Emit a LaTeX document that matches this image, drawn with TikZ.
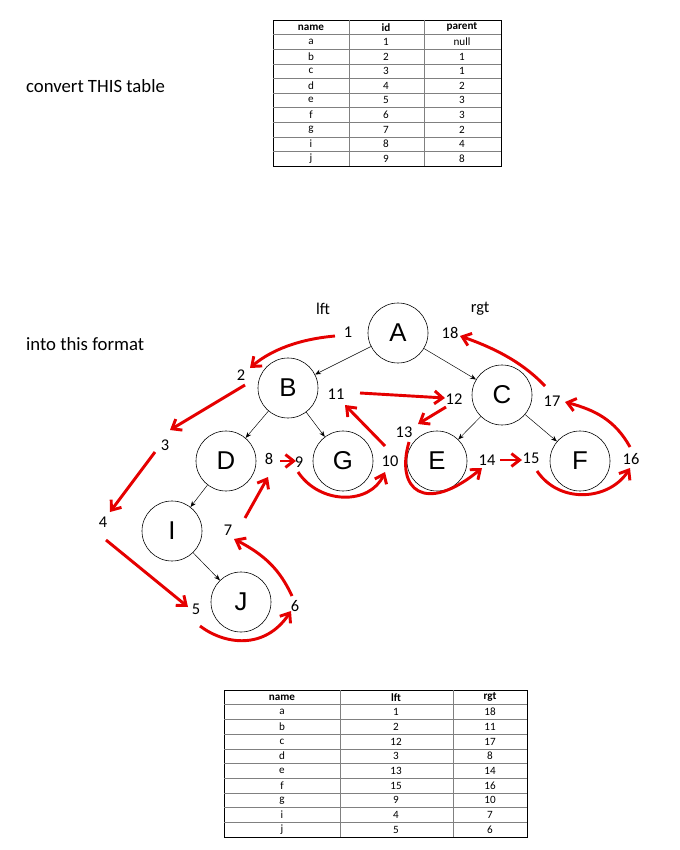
\documentclass[tikz,border=0pt]{standalone}
\usepackage{fontspec}
\setmainfont{Carlito}
\newfontfamily\arialf{Liberation Sans}
\usetikzlibrary{arrows.meta}
\begin{document}
\begin{tikzpicture}[x=0.03cm,y=-0.03cm,
  tn/.style={circle,draw,line width=0.5pt,minimum size=1.8cm,inner sep=0,font=\arialf\fontsize{22}{24}\selectfont},
  num/.style={inner sep=1pt,font=\fontsize{14}{16}\selectfont},
  edge/.style={-{Stealth[length=5pt,width=4pt]},line width=0.4pt},
  ra/.style={draw=red!90!black,line width=2.5pt,-{Straight Barb[length=7pt,width=11pt,line width=2.5pt]}},
  cell/.style={font=\fontsize{9.5}{10}\selectfont,inner sep=0}]
\useasboundingbox (0,0) rectangle (680,850);
\node[anchor=west,font=\fontsize{16}{18}\selectfont] (t1) at (22,86) {convert THIS table};
\node[anchor=west,font=\fontsize{16}{18}\selectfont] (t2) at (22,344) {into this format};
% top table
\draw[line width=0.5pt] (273,20) rectangle (501,166);
\foreach \i in {1,...,9} \draw[line width=0.4pt,gray] (273,20+\i*14.6) -- (501,20+\i*14.6);
\draw[line width=0.4pt,gray] (349,20) -- (349,166) (424,20) -- (424,166);
\foreach [count=\r] \n/\a/\b in {\textbf{name}/\textbf{id}/\textbf{parent},a/1/null,b/2/1,c/3/1,d/4/2,e/5/3,f/6/3,g/7/2,i/8/4,j/9/8}{
  \node[cell] (ta\r) at (311,20+\r*14.6-7.3) {\n};
  \node[cell] (tb\r) at (386,20+\r*14.6-7.3) {\a};
  \node[cell] (tc\r) at (462,20+\r*14.6-7.3) {\b};}
% bottom table
\draw[line width=0.5pt] (224,690) rectangle (527,837);
\foreach \i in {1,...,9} \draw[line width=0.4pt,gray] (224,690+\i*14.7) -- (527,690+\i*14.7);
\draw[line width=0.4pt,gray] (340,690) -- (340,837) (453,690) -- (453,837);
\foreach [count=\r] \n/\a/\b in {\textbf{name}/\textbf{lft}/\textbf{rgt},a/1/18,b/2/11,c/12/17,d/3/8,e/13/14,f/15/16,g/9/10,i/4/7,j/5/6}{
  \node[cell] (ba\r) at (282,690+\r*14.7-7.35) {\n};
  \node[cell] (bb\r) at (396,690+\r*14.7-7.35) {\a};
  \node[cell] (bc\r) at (490,690+\r*14.7-7.35) {\b};}
% tree
\node[tn] (A) at (398,333) {A};
\node[tn] (B) at (288,388) {B};
\node[tn] (C) at (502,395) {C};
\node[tn] (D) at (226,461) {D};
\node[tn] (G) at (343,461) {G};
\node[tn] (E) at (437,461) {E};
\node[tn] (F) at (580,461) {F};
\node[tn] (I) at (172,531) {I};
\node[tn] (J) at (241,602) {J};
\draw[edge] (A) -- (B); \draw[edge] (A) -- (C);
\draw[edge] (B) -- (D); \draw[edge] (B) -- (G);
\draw[edge] (C) -- (E); \draw[edge] (C) -- (F);
\draw[edge] (D) -- (I); \draw[edge] (I) -- (J);
\node[num] (lft) at (323,309) {lft};
\node[num] (rgt) at (480,309) {rgt};
\foreach \k/\x/\y in {1/348/332,2/241/375,3/165/445,4/103/522,5/196/609,6/295/606,7/228/530,8/269/459,9/299/462,10/390/461,11/336/394,12/454/399,13/404/432,14/487/460,15/531/458,16/631/459,17/552/401,18/450/333}
  \node[num] (n\k) at (\x,\y) {\k};
\draw[ra] (335,336) .. controls (290,340) and (265,355) .. (250,368);
\draw[ra] (245,385) -- (170,430);
\draw[ra] (155,452) -- (110,512);
\draw[ra] (106,540) -- (188,607);
\draw[ra] (200,626) .. controls (225,645) and (265,650) .. (291,611);
\draw[ra] (292,596) .. controls (280,570) and (265,555) .. (234,539);
\draw[ra] (245,518) -- (268,477);
\draw[ra] (280,461) -- (296,461);
\draw[ra] (298,472) .. controls (320,505) and (370,505) .. (385,472);
\draw[ra] (385,446) -- (345,405);
\draw[ra] (360,393) -- (445,398);
\draw[ra] (446,407) -- (418,424);
\draw[ra] (409,442) .. controls (395,490) and (425,515) .. (482,468);
\draw[ra] (500,460) -- (522,460);
\draw[ra] (537,471) .. controls (560,505) and (610,500) .. (630,468);
\draw[ra] (630,447) .. controls (615,420) and (595,410) .. (565,402);
\draw[ra] (545,386) .. controls (525,365) and (500,350) .. (460,336);
\end{tikzpicture}
\end{document}
